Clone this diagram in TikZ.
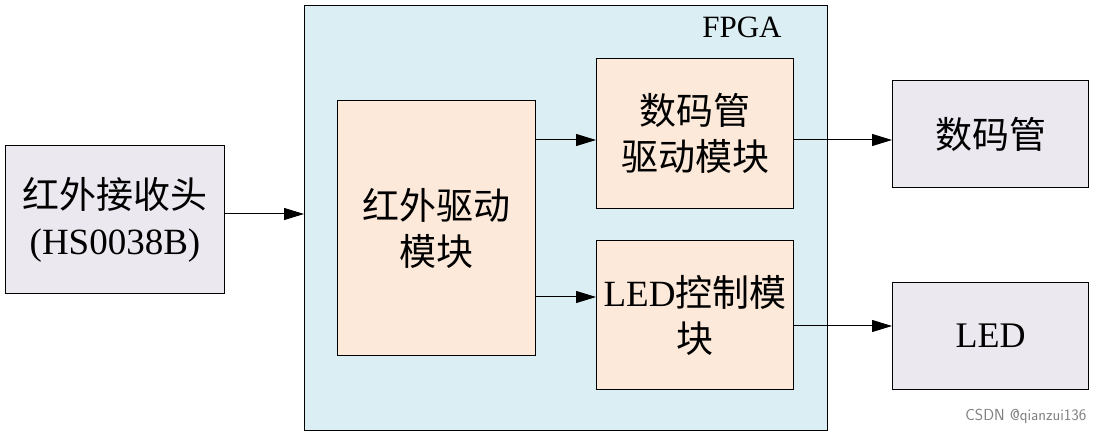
\documentclass[tikz,border=0pt]{standalone}
\usepackage{fontspec}
\setmainfont{Liberation Serif}
\newfontfamily\cjk{Noto Sans CJK SC}
\usetikzlibrary{arrows.meta}
\definecolor{fpgabg}{HTML}{DAEEF3}
\definecolor{peach}{HTML}{FDE9D9}
\definecolor{lav}{HTML}{EBE8F0}
\begin{document}
\begin{tikzpicture}[x=1pt,y=-1pt,
  box/.style={draw=black,line width=1pt,align=center,inner sep=0pt,font=\fontsize{37}{46}\selectfont\cjk},
  arr/.style={-{Triangle[length=20pt,width=12pt]},line width=1pt}]
\useasboundingbox (0,0) rectangle (1093,435);
\node[box,fill=lav,minimum width=219pt,minimum height=148pt,anchor=north west] (rx) at (5,145) {红外接收头\\{\rmfamily (HS0038B)}};
\node[draw=black,line width=1pt,fill=fpgabg,minimum width=523pt,minimum height=425pt,anchor=north west,inner sep=0pt] (fpga) at (304,5) {};
\node[font=\fontsize{31}{34}\selectfont] (fl) at (742,27) {FPGA};
\node[box,fill=peach,minimum width=198pt,minimum height=255pt,anchor=north west] (ir) at (337,100) {红外驱动\\模块};
\node[box,fill=peach,minimum width=197pt,minimum height=150pt,anchor=north west] (seg) at (596,58) {数码管\\驱动模块};
\node[box,fill=peach,minimum width=197pt,minimum height=149pt,anchor=north west] (led) at (596,240) {{\rmfamily LED}控制模\\块};
\node[box,fill=lav,minimum width=196pt,minimum height=107pt,anchor=north west] (segout) at (892,80) {数码管};
\node[box,fill=lav,minimum width=196pt,minimum height=107pt,anchor=north west,font=\fontsize{36}{44}\selectfont\rmfamily] (ledout) at (892,282) {LED};
\coordinate (a1) at (224,214); \coordinate (a2) at (304,214);
\draw[arr] (rx.east |- a1) -- (fpga.west |- a2);
\draw[arr] (ir.east |- 0,140) -- (seg.west |- 0,140);
\draw[arr] (ir.east |- 0,297) -- (led.west |- 0,297);
\draw[arr] (seg.east |- 0,140) -- (segout.west |- 0,140);
\draw[arr] (led.east |- 0,326) -- (ledout.west |- 0,326);
\node[font=\fontsize{16}{18}\selectfont\sffamily,text=gray,anchor=east] (wm) at (1090,416) {CSDN @qianzui136};
\end{tikzpicture}
\end{document}
